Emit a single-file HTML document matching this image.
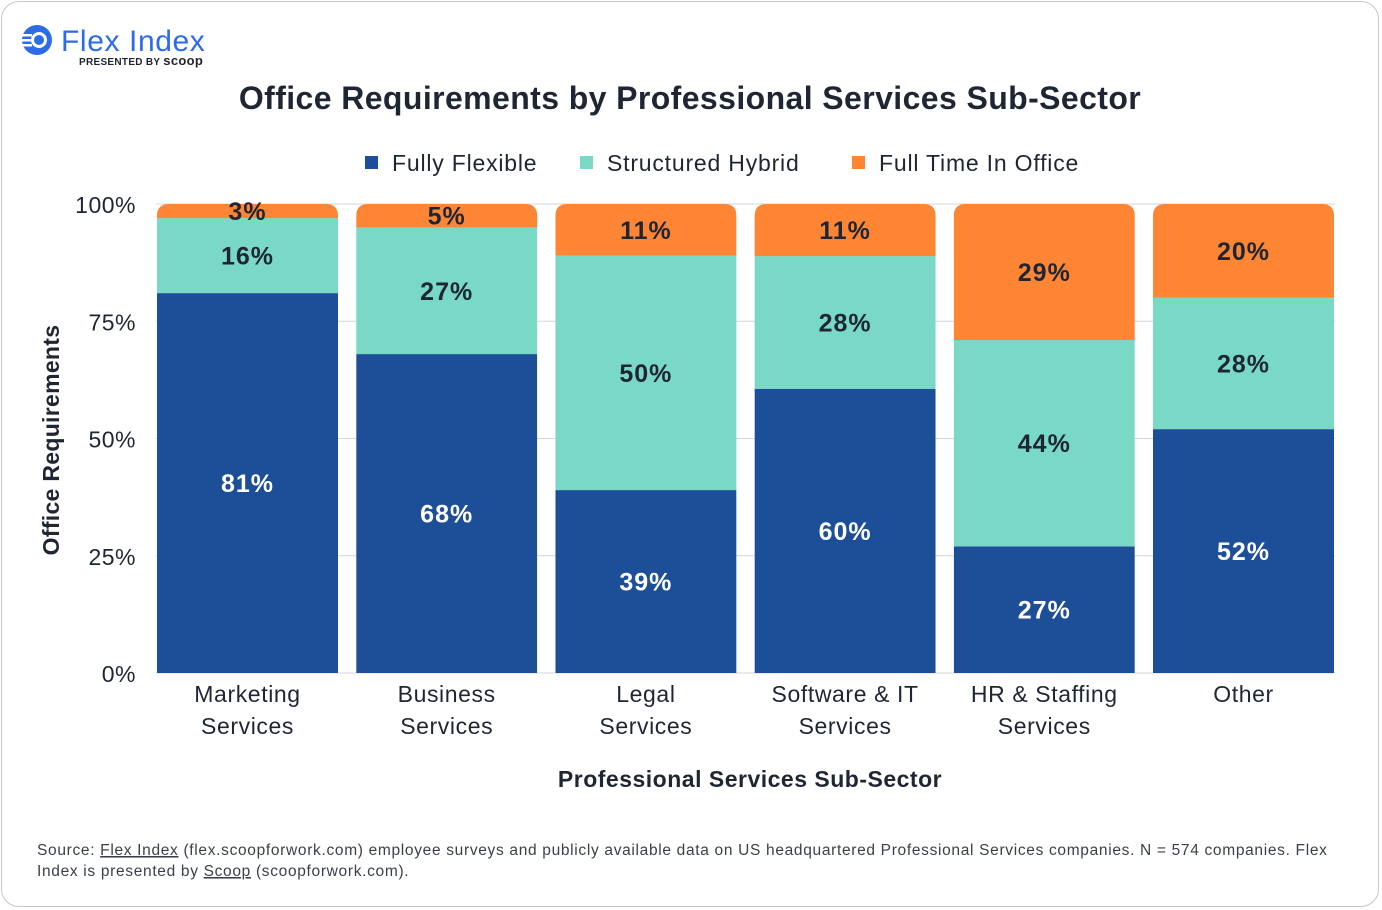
<!DOCTYPE html>
<html><head><meta charset="utf-8"><style>
body{margin:0;background:#fff;font-family:"Liberation Sans",sans-serif;}
#card{position:absolute;left:1px;top:1px;width:1376px;height:904px;border:1.5px solid #c4c8d0;border-radius:18px;background:#fff;}
</style></head><body>
<div id="card"></div>
<svg width="1382" height="910" style="position:absolute;left:0;top:0">
<g>
<circle cx="37" cy="40" r="15" fill="#2e6be6"/>
<circle cx="39" cy="40" r="8" fill="#fff"/>
<circle cx="39" cy="40" r="5" fill="#2e6be6"/>
<rect x="20" y="34" width="12" height="2.5" fill="#fff"/><rect x="20" y="39" width="12" height="2.5" fill="#fff"/><rect x="20" y="44" width="12" height="2.5" fill="#fff"/>
<text x="61" y="51" font-size="30" fill="#2e6be6" letter-spacing="0.6">Flex Index</text>
<text x="79" y="65" font-size="10" font-weight="bold" fill="#1e2430" letter-spacing="0.3">PRESENTED BY <tspan font-size="13">scoop</tspan></text>
</g>
<text x="690" y="109" text-anchor="middle" font-size="32" font-weight="bold" fill="#1f2633" letter-spacing="0.4">Office Requirements by Professional Services Sub-Sector</text>
<g id="legend" font-size="23" fill="#1f2633" letter-spacing="0.8"></g>
<g id="grid"></g>
<g id="bars"></g>
<text x="750" y="787" text-anchor="middle" font-size="23" font-weight="bold" fill="#1f2633" letter-spacing="0.5">Professional Services Sub-Sector</text>
<text transform="translate(59,440) rotate(-90)" text-anchor="middle" font-size="23" font-weight="bold" fill="#1f2633" letter-spacing="0.3">Office Requirements</text>
<text x="37" y="855" font-size="15.5" fill="#3a3f4a" letter-spacing="0.68">Source: <tspan text-decoration="underline">Flex Index</tspan> (flex.scoopforwork.com) employee surveys and publicly available data on US headquartered Professional Services companies. N = 574 companies. Flex</text>
<text x="37" y="876" font-size="15.5" fill="#3a3f4a" letter-spacing="0.68">Index is presented by <tspan text-decoration="underline">Scoop</tspan> (scoopforwork.com).</text>
</svg>
<script>
const categories=[["Marketing","Services"],["Business","Services"],["Legal","Services"],["Software & IT","Services"],["HR & Staffing","Services"],["Other"]];
const seriesNames=["Fully Flexible","Structured Hybrid","Full Time In Office"];
const fullyFlexible=[81,68,39,60,27,52];
const structuredHybrid=[16,27,50,28,44,28];
const fullTimeOffice=[3,5,11,11,29,20];
const yTicks=[0,25,50,75,100];
const colors=["#1d4e98","#79d8c6","#fd8534"];
const NS="http://www.w3.org/2000/svg";
const x0=156,x1=1335,yTop=204,yBot=673,barW=181,firstBar=157,step=199.2;
const y=v=>yBot-(yBot-yTop)*v/100;
const xb=i=>firstBar+step*i;
function mk(tag,attrs,parent){const e=document.createElementNS(NS,tag);for(const k in attrs)e.setAttribute(k,attrs[k]);parent.appendChild(e);return e;}
const grid=document.getElementById('grid'),bars=document.getElementById('bars'),leg=document.getElementById('legend');
yTicks.forEach(t=>{
 const l=mk('line',{x1:x0,x2:x1,y1:y(t),y2:y(t),stroke:'#d4d6da','stroke-width':1},grid);
 
 
 const tx=mk('text',{x:136,y:y(t)+9,'text-anchor':'end','font-size':23,fill:'#1f2633','letter-spacing':0.5},grid);
 tx.textContent=t+'%';
 
 
});
const lx=[365,580,852];
seriesNames.forEach((n,i)=>{
 const r=mk('rect',{x:lx[i],y:156,width:13,height:13,fill:colors[i]},leg);
 
 
 const t=mk('text',{x:lx[i]+27,y:171},leg);t.textContent=n;
 
 
});
const series=[fullyFlexible,structuredHybrid,fullTimeOffice];
categories.forEach((c,i)=>{
 const tot=series.reduce((s,a)=>s+a[i],0);
 let cum=0;const X=xb(i);
 const clipId='clip'+i;
 const cp=mk('clipPath',{id:clipId},bars);
 mk('path',{d:`M${X},${yBot} V${yTop+12} Q${X},${yTop} ${X+12},${yTop} H${X+barW-12} Q${X+barW},${yTop} ${X+barW},${yTop+12} V${yBot} Z`},cp);
 const g=mk('g',{'clip-path':`url(#${clipId})`},bars);
 series.forEach((s,k)=>{
  const v=s[i]/tot*100;
  const ya=y(cum+v),yb=y(cum);
  const r=mk('rect',{x:X,y:ya,width:barW,height:yb-ya,fill:colors[k]},g);
  
  
  const lab=mk('text',{x:X+barW/2,y:Math.max((ya+yb)/2+9,yTop+9),'text-anchor':'middle','font-size':25,'font-weight':'bold',fill:k==0?'#fff':'#1f2633','letter-spacing':1},bars);
  lab.textContent=s[i]+'%';
  
  
  cum+=v;
 });
 c.forEach((line,j)=>{
  const t=mk('text',{x:X+barW/2,y:702+j*32,'text-anchor':'middle','font-size':23,fill:'#1f2633','letter-spacing':0.6},bars);
  t.textContent=line;
  
  
 });
});
</script>
</body></html>
